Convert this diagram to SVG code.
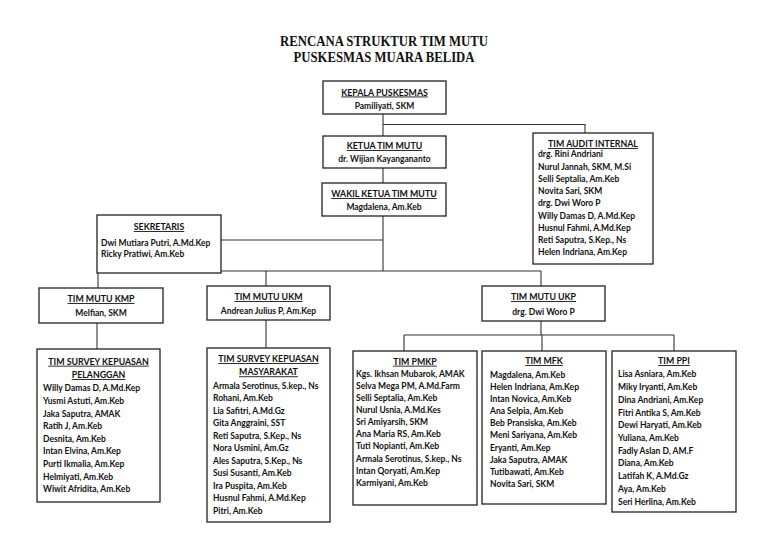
<svg xmlns="http://www.w3.org/2000/svg" width="768" height="543" viewBox="0 0 768 543">
<style>
.bg{fill:#fff}
.box{fill:#fff;stroke:#222;stroke-width:1.3}
.ln{fill:none;stroke:#333;stroke-width:1.1}
.ttl{font-family:"Liberation Serif",serif;font-weight:bold;font-size:14.5px;text-anchor:middle;fill:#111}
.h{font-family:Lato,"Liberation Sans",sans-serif;font-weight:bold;font-size:8.8px;text-anchor:middle;text-decoration:underline;fill:#111}
.c{font-family:Lato,"Liberation Sans",sans-serif;font-weight:bold;font-size:8.5px;text-anchor:middle;fill:#111}
.t{font-family:Lato,"Liberation Sans",sans-serif;font-weight:bold;font-size:8.5px;fill:#111}
</style>
<rect class="bg" x="0" y="0" width="768" height="543"/>
<g id="title">
<text class="ttl" x="384" y="46" textLength="208" lengthAdjust="spacingAndGlyphs">RENCANA STRUKTUR TIM MUTU</text>
<text class="ttl" x="384" y="62" textLength="181" lengthAdjust="spacingAndGlyphs">PUSKESMAS MUARA BELIDA</text>
</g>
<g id="connectors">
<path class="ln" d="M383 114V136M383 124.5H585V133M383 168V183M383 216V271M221 240H383M98 271H541M98 271V288M266 271V286M541 271V286M541 321V335M404 335H674M404 335V351M542 335V351M674 335V351M97 323V349M266 320V348"/>
</g>
<g id="kepala">
<rect class="box" x="323" y="81" width="123" height="33"/>
<text class="h" x="384.5" y="95.5">KEPALA PUSKESMAS</text>
<text class="c" x="384.5" y="109">Pamiliyati, SKM</text>
</g>
<g id="ketua">
<rect class="box" x="323" y="136" width="123" height="32"/>
<text class="h" x="384.5" y="149">KETUA TIM MUTU</text>
<text class="c" x="384.5" y="162">dr. Wijian Kayangananto</text>
</g>
<g id="wakil">
<rect class="box" x="322" y="183" width="124" height="33"/>
<text class="h" x="384" y="197">WAKIL KETUA TIM MUTU</text>
<text class="c" x="384" y="210">Magdalena, Am.Keb</text>
</g>
<g id="sekretaris">
<rect class="box" x="97" y="215" width="124" height="58"/>
<text class="h" x="159" y="230">SEKRETARIS</text>
<text class="t" x="101" y="246">Dwi Mutiara Putri, A.Md.Kep</text>
<text class="t" x="101" y="256.5">Ricky Pratiwi, Am.Keb</text>
</g>
<g id="audit">
<rect class="box" x="533" y="133" width="120" height="131"/>
<text class="h" x="593" y="147">TIM AUDIT INTERNAL</text>
<text class="t" x="538" y="157.3">drg. Rini Andriani</text>
<text class="t" x="538" y="169.5">Nurul Jannah, SKM, M.Si</text>
<text class="t" x="538" y="181.8">Selli Septalia, Am.Keb</text>
<text class="t" x="538" y="194">Novita Sari, SKM</text>
<text class="t" x="538" y="206.3">drg. Dwi Woro P</text>
<text class="t" x="538" y="218.5">Willy Damas D, A.Md.Kep</text>
<text class="t" x="538" y="230.8">Husnul Fahmi, A.Md.Kep</text>
<text class="t" x="538" y="243">Reti Saputra, S.Kep., Ns</text>
<text class="t" x="538" y="255.3">Helen Indriana, Am.Kep</text>
</g>
<g id="kmp">
<rect class="box" x="39" y="288" width="124" height="35"/>
<text class="h" x="101" y="302">TIM MUTU KMP</text>
<text class="c" x="101" y="316">Melfian, SKM</text>
</g>
<g id="ukm">
<rect class="box" x="207" y="286" width="123" height="34"/>
<text class="h" x="268.5" y="300">TIM MUTU UKM</text>
<text class="c" x="268.5" y="314">Andrean Julius P, Am.Kep</text>
</g>
<g id="ukp">
<rect class="box" x="482" y="286" width="123" height="35"/>
<text class="h" x="543.5" y="300">TIM MUTU UKP</text>
<text class="c" x="543.5" y="315">drg. Dwi Woro P</text>
</g>
<g id="survey-pelanggan">
<rect class="box" x="37" y="349" width="123" height="153"/>
<text class="h" x="98.5" y="364.7">TIM SURVEY KEPUASAN</text>
<text class="h" x="98.5" y="378">PELANGGAN</text>
<text class="t" x="43" y="391.3">Willy Damas D, A.Md.Kep</text>
<text class="t" x="43" y="403.9">Yusmi Astuti, Am.Keb</text>
<text class="t" x="43" y="416.5">Jaka Saputra, AMAK</text>
<text class="t" x="43" y="429.2">Ratih J, Am.Keb</text>
<text class="t" x="43" y="441.8">Desnita, Am.Keb</text>
<text class="t" x="43" y="454.4">Intan Elvina, Am.Kep</text>
<text class="t" x="43" y="467">Purti Ikmalia, Am.Kep</text>
<text class="t" x="43" y="479.7">Helmiyati, Am.Keb</text>
<text class="t" x="43" y="492.3">Wiwit Afridita, Am.Keb</text>
</g>
<g id="survey-masyarakat">
<rect class="box" x="207" y="348" width="123" height="174"/>
<text class="h" x="268.5" y="362">TIM SURVEY KEPUASAN</text>
<text class="h" x="268.5" y="375.3">MASYARAKAT</text>
<text class="t" x="213" y="388.7">Armala Serotinus, S.kep., Ns</text>
<text class="t" x="213" y="401.2">Rohani, Am.Keb</text>
<text class="t" x="213" y="413.7">Lia Safitri, A.Md.Gz</text>
<text class="t" x="213" y="426.2">Gita Anggraini, SST</text>
<text class="t" x="213" y="438.7">Reti Saputra, S.Kep., Ns</text>
<text class="t" x="213" y="451.2">Nora Usmini, Am.Gz</text>
<text class="t" x="213" y="463.7">Ales Saputra, S.Kep., Ns</text>
<text class="t" x="213" y="476.2">Susi Susanti, Am.Keb</text>
<text class="t" x="213" y="488.7">Ira Puspita, Am.Keb</text>
<text class="t" x="213" y="501.2">Husnul Fahmi, A.Md.Kep</text>
<text class="t" x="213" y="513.7">Pitri, Am.Keb</text>
</g>
<g id="pmkp">
<rect class="box" x="353" y="351" width="124" height="154"/>
<text class="h" x="415" y="364.7">TIM PMKP</text>
<text class="t" x="356" y="377">Kgs. Ikhsan Mubarok, AMAK</text>
<text class="t" x="356" y="389.1">Selva Mega PM, A.Md.Farm</text>
<text class="t" x="356" y="401.1">Selli Septalia, Am.Keb</text>
<text class="t" x="356" y="413.2">Nurul Usnia, A.Md.Kes</text>
<text class="t" x="356" y="425.3">Sri Amiyarsih, SKM</text>
<text class="t" x="356" y="437.4">Ana Maria RS, Am.Keb</text>
<text class="t" x="356" y="449.4">Tuti Nopianti, Am.Keb</text>
<text class="t" x="356" y="461.5">Armala Serotinus, S.kep., Ns</text>
<text class="t" x="356" y="473.6">Intan Qoryati, Am.Kep</text>
<text class="t" x="356" y="485.7">Karmiyani, Am.Keb</text>
</g>
<g id="mfk">
<rect class="box" x="482" y="351" width="124" height="153"/>
<text class="h" x="544" y="364">TIM MFK</text>
<text class="t" x="490" y="377.7">Magdalena, Am.Keb</text>
<text class="t" x="490" y="389.8">Helen Indriana, Am.Kep</text>
<text class="t" x="490" y="402">Intan Novica, Am.Keb</text>
<text class="t" x="490" y="414.1">Ana Selpia, Am.Keb</text>
<text class="t" x="490" y="426.3">Beb Pransiska, Am.Keb</text>
<text class="t" x="490" y="438.4">Meni Sariyana, Am.Keb</text>
<text class="t" x="490" y="450.6">Eryanti, Am.Kep</text>
<text class="t" x="490" y="462.7">Jaka Saputra, AMAK</text>
<text class="t" x="490" y="474.9">Tutibawati, Am.Keb</text>
<text class="t" x="490" y="487">Novita Sari, SKM</text>
</g>
<g id="ppi">
<rect class="box" x="612" y="351" width="124" height="161"/>
<text class="h" x="674" y="364">TIM PPI</text>
<text class="t" x="618" y="377.3">Lisa Asniara, Am.Keb</text>
<text class="t" x="618" y="390">Miky Iryanti, Am.Keb</text>
<text class="t" x="618" y="402.8">Dina Andriani, Am.Kep</text>
<text class="t" x="618" y="415.5">Fitri Antika S, Am.Keb</text>
<text class="t" x="618" y="428.2">Dewi Haryati, Am.Keb</text>
<text class="t" x="618" y="441">Yuliana, Am.Keb</text>
<text class="t" x="618" y="453.7">Fadly Aslan D, AM.F</text>
<text class="t" x="618" y="466.4">Diana, Am.Keb</text>
<text class="t" x="618" y="479.2">Latifah K, A.Md.Gz</text>
<text class="t" x="618" y="491.9">Aya, Am.Keb</text>
<text class="t" x="618" y="504.6">Seri Herlina, Am.Keb</text>
</g>
</svg>
